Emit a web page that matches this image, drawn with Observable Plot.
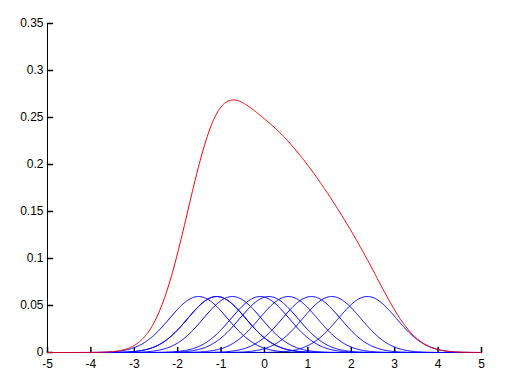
<!DOCTYPE html>
<html><head><meta charset="utf-8">
<script src="https://cdn.jsdelivr.net/npm/d3@7"></script>
<script src="https://cdn.jsdelivr.net/npm/@observablehq/plot@0.6"></script>
<style>html,body{margin:0;padding:0;background:#fff}#chart svg{display:block}</style>
</head><body><div id="chart"></div>
<script>
// sample points (kernel centres)
const samples = [-1.52, -1.1, -1.1, -0.74, -0.1, 0.1, 0.55, 1.08, 1.55, 2.37];
const bandwidth = 0.67;
const xTicks = [-5, -4, -3, -2, -1, 0, 1, 2, 3, 4, 5];
const yTicks = [0, 0.05, 0.1, 0.15, 0.2, 0.25, 0.3, 0.35];
const xDomain = [-5, 5];
const yDomain = [0, 0.35];

const grid = d3.range(-5, 5.0001, 0.02);
const n = samples.length;
const gauss = u => Math.exp(-0.5 * u * u) / Math.sqrt(2 * Math.PI);
const kernels = samples.flatMap((c, i) => grid.map(x => ({id: i, x, y: gauss((x - c) / bandwidth) / (n * bandwidth)})));
const density = grid.map(x => ({x, y: d3.sum(samples, c => gauss((x - c) / bandwidth)) / (n * bandwidth)}));

const tickUp = {draw(ctx, l) { ctx.moveTo(0, 0); ctx.lineTo(0, -l); }};

const chart = Plot.plot({
  width: 507, height: 390,
  marginLeft: 47, marginRight: 26, marginTop: 23, marginBottom: 38,
  x: {domain: xDomain},
  y: {domain: yDomain},
  style: {fontFamily: "'Liberation Sans', Arial, sans-serif", fontSize: "12px", color: "#000", background: "#fff", overflow: "visible"},
  marks: [
    Plot.ruleY([0], {stroke: "#000"}),
    Plot.ruleX([-5], {stroke: "#000"}),
    Plot.vector(xTicks, {x: d => d, y: 0, length: 5, rotate: 0, anchor: "start", shape: tickUp, stroke: "#000"}),
    Plot.vector(yTicks, {x: -5, y: d => d, length: 5, rotate: 90, anchor: "start", shape: tickUp, stroke: "#000"}),
    Plot.axisX(xTicks, {tickSize: 0, tickPadding: 7, tickFormat: d => String(d), label: null}),
    Plot.axisY(yTicks, {tickSize: 0, tickPadding: 4, tickFormat: d => String(d), label: null}),
    Plot.lineY(kernels, {x: "x", y: "y", z: "id", stroke: "#0000ff", strokeWidth: 1}),
    Plot.lineY(density, {x: "x", y: "y", stroke: "#ff0000", strokeWidth: 1})
  ]
});
document.getElementById("chart").appendChild(chart);
</script>
</body></html>
